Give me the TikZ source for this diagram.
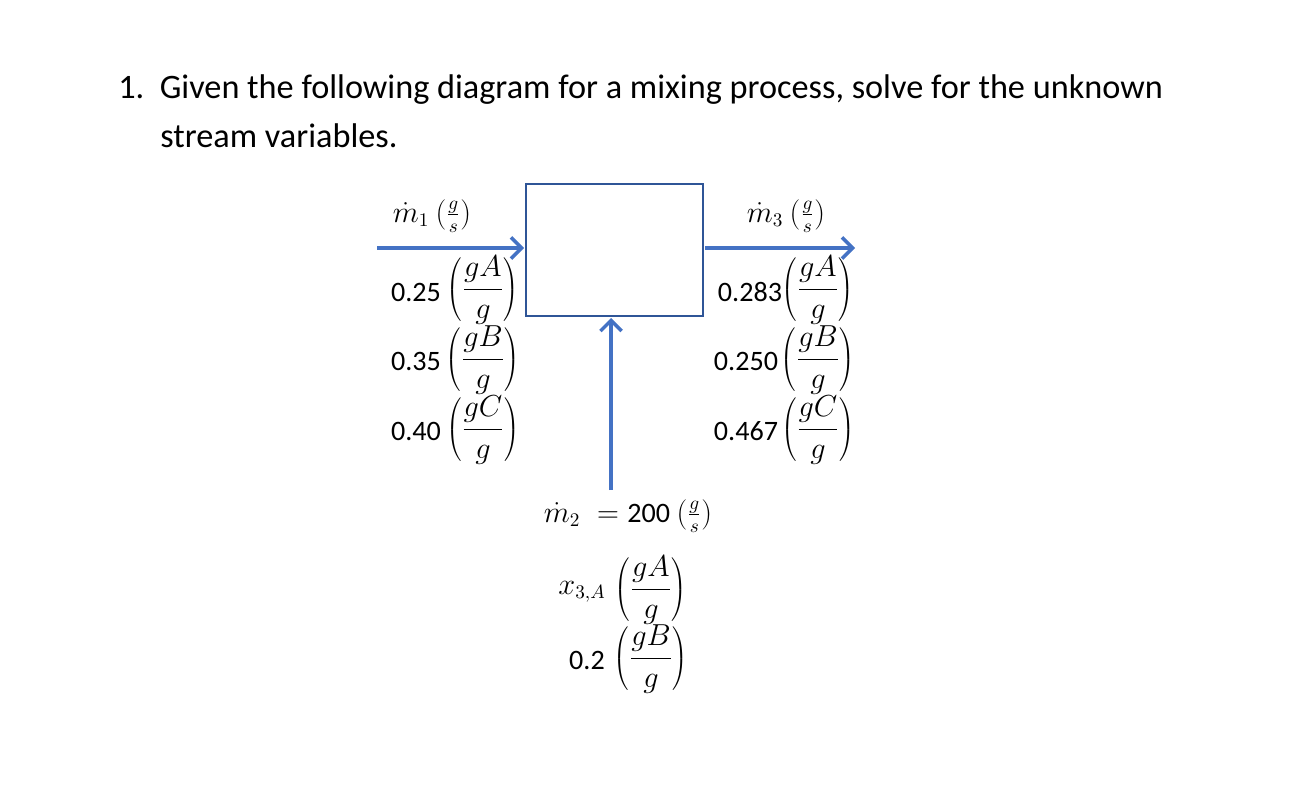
\documentclass[tikz,border=0pt]{standalone}
\usepackage{fontspec}
\setmainfont{Carlito}
\definecolor{boxblue}{RGB}{47,85,151}
\definecolor{arrblue}{RGB}{68,114,196}
\usetikzlibrary{arrows.meta}
\tikzset{
  boxc/.style={draw=boxblue,line width=1.6pt},
  arr/.style={draw=arrblue,line width=2pt,-{Straight Barb[length=6pt,width=12pt]}},
  lbl/.style={inner sep=0pt,font=\fontsize{16}{19}\selectfont}
}
\newcommand{\fr}[1]{$\left(\displaystyle\frac{g#1}{g}\right)$}
\begin{document}
\begin{tikzpicture}[x=0.02cm,y=-0.02cm]
\useasboundingbox (0,0) rectangle (1292,798);
\node[lbl,anchor=west] (t1) at (118,90) {\fontsize{19.5}{23}\selectfont 1.\ \ Given the following diagram for a mixing process, solve for the unknown};
\node[lbl,anchor=west] (t2) at (160,136) {\fontsize{19.5}{23}\selectfont stream variables.};
\draw[boxc] (526,184) rectangle (703,316);
\coordinate (bw) at (524,248);
\coordinate (be) at (705,248);
\coordinate (bs) at (611,318);
\coordinate (l0) at (377,248);
\coordinate (r1) at (855,248);
\coordinate (b0) at (611,490);
\draw[arr] (l0) -- (bw);
\draw[arr] (be) -- (r1);
\draw[arr] (b0) -- (bs);
% left
\node[lbl] (m1) at (432,216) {$\dot m_1\ \bigl(\frac{g}{s}\bigr)$};
\node[lbl] (a1) at (416,292) {0.25};
\node[lbl] (a2) at (416,361) {0.35};
\node[lbl] (a3) at (416,431) {0.40};
\node[lbl] (f1) at (483,290) {\fr{A}};
\node[lbl] (f2) at (483,360) {\fr{B}};
\node[lbl] (f3) at (483,430) {\fr{C}};
% right
\node[lbl] (m3) at (786,216) {$\dot m_3\ \bigl(\frac{g}{s}\bigr)$};
\node[lbl] (c1) at (750,292) {0.283};
\node[lbl] (c2) at (746,361) {0.250};
\node[lbl] (c3) at (746,431) {0.467};
\node[lbl] (g1) at (818,290) {\fr{A}};
\node[lbl] (g2) at (818,360) {\fr{B}};
\node[lbl] (g3) at (818,430) {\fr{C}};
% bottom
\node[lbl] (m2) at (628,516) {$\dot m_2\;=\;$200$\ \bigl(\frac{g}{s}\bigr)$};
\node[lbl] (x3) at (582,592) {$x_{3,A}$};
\node[lbl] (d2) at (587,660) {0.2};
\node[lbl] (h1) at (651,590) {\fr{A}};
\node[lbl] (h2) at (651,659) {\fr{B}};
\end{tikzpicture}
\end{document}
